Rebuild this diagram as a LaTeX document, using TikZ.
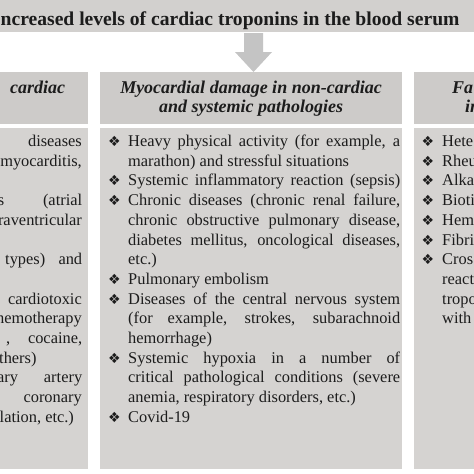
\documentclass[tikz,border=0pt]{standalone}
\usepackage{fontspec}
\setmainfont{Liberation Serif}
\newfontfamily\dejavu{DejaVu Sans}
\definecolor{boxgray}{HTML}{D5D3D1}
\definecolor{headgray}{HTML}{CDCBC9}
\definecolor{bandgray}{HTML}{D2D0CE}
\definecolor{arrowgray}{HTML}{C4C4C4}
\definecolor{ink}{HTML}{1C1C1C}
\newcommand\JL[2]{\makebox[#1][s]{#2}}
\begin{document}
\begin{tikzpicture}[x=1pt,y=-1pt,
  panel/.style={fill=boxgray, draw=none, inner sep=0pt, anchor=north west},
  colhead/.style={fill=headgray, draw=none, inner sep=0pt, anchor=north west},
  body/.style={anchor=base west, inner sep=0pt, font=\fontsize{16.4}{19.7}\selectfont, text=ink},
  bodyr/.style={anchor=base east, inner sep=0pt, font=\fontsize{16.4}{19.7}\selectfont, text=ink},
  headtext/.style={anchor=base, inner sep=0pt, font=\fontsize{18}{20}\selectfont\bfseries\itshape, text=ink},
  headtextw/.style={anchor=base west, inner sep=0pt, font=\fontsize{18}{20}\selectfont\bfseries\itshape, text=ink},
  bul/.style={inner sep=0pt, font=\dejavu\fontsize{14}{14}\selectfont, text=ink},
]
\useasboundingbox (0,0) rectangle (474,474);
\clip (0,0) rectangle (474,474);
\fill[white] (0,0) rectangle (474,474);
% top band
\node[fill=bandgray, inner sep=0pt, anchor=north west, minimum width=474pt, minimum height=32pt] (band) at (0,0) {};
\node[anchor=base west, inner sep=0pt, font=\fontsize{19.6}{22}\selectfont\bfseries, text=ink] (title) at (0.5,25) {ncreased levels of cardiac troponins in the blood serum};
% column headers
\node[colhead, minimum width=108pt, minimum height=52pt] (lhead) at (-20,72) {};
\node[colhead, minimum width=302pt, minimum height=52pt] (mhead) at (100,72) {};
\node[colhead, minimum width=80pt, minimum height=52pt] (rhead) at (414,72) {};
% bodies
\node[panel, minimum width=108pt, minimum height=341pt] (lbody) at (-20,128) {};
\node[panel, minimum width=302pt, minimum height=341pt] (mbody) at (100,128) {};
\node[panel, minimum width=80pt, minimum height=341pt] (rbody) at (414,128) {};
% arrow
\coordinate (atop) at (253.5,33);
\coordinate (atip) at (253.5,72);
\fill[arrowgray] ([xshift=-9.5pt]atop) -- ([xshift=9.5pt]atop) -- ([xshift=9.5pt,yshift=-19pt]atop)
  -- ([xshift=18.5pt,yshift=-19pt]atop) -- (atip) -- ([xshift=-18.5pt,yshift=-19pt]atop)
  -- ([xshift=-9.5pt,yshift=-19pt]atop) -- cycle;
% header texts
\node[headtextw] (lh1) at (10,93) {cardiac};
\node[headtext] (mh1) at (251,93) {Myocardial damage in non-cardiac};
\node[headtext] (mh2) at (251,112) {and systemic pathologies};
\node[headtextw] (rh1) at (452,93) {Fa};
\node[headtextw] (rh2) at (465,112) {in};
% left column fragments
\node[bodyr] (l0) at (82,146.5) {diseases};
\node[bodyr] (l1) at (82,166.2) {myocarditis,};
\node[body] (l3) at (-2.4,205.6) {\JL{84.4pt}{s (atrial}};
\node[bodyr] (l4) at (82,225.3) {raventricular};
\node[body] (l6) at (5,264.7) {\JL{77pt}{types) and}};
\node[bodyr] (l8) at (82,304.1) {cardiotoxic};
\node[bodyr] (l9) at (82,323.8) {hemotherapy};
\node[body] (l10) at (6,343.5) {\JL{76pt}{, cocaine,}};
\node[body] (l11) at (-1,363.2) {thers)};
\node[body] (l12) at (-3,382.9) {\JL{85pt}{ary artery}};
\node[bodyr] (l13) at (82,402.6) {coronary};
\node[body] (l14) at (-0.5,422.3) {lation, etc.)};
% middle column
\node[body] (m0) at (128,146.5) {\JL{272pt}{Heavy physical activity (for example, a}};
\node[body] (m1) at (128,166.2) {marathon) and stressful situations};
\node[body] (m2) at (128,185.9) {\JL{272pt}{Systemic inflammatory reaction (sepsis)}};
\node[body] (m3) at (128,205.6) {\JL{272pt}{Chronic diseases (chronic renal failure,}};
\node[body] (m4) at (128,225.3) {\JL{272pt}{chronic obstructive pulmonary disease,}};
\node[body] (m5) at (128,245.0) {\JL{272pt}{diabetes mellitus, oncological diseases,}};
\node[body] (m6) at (128,264.7) {etc.)};
\node[body] (m7) at (128,284.4) {Pulmonary embolism};
\node[body] (m8) at (128,304.1) {\JL{272pt}{Diseases of the central nervous system}};
\node[body] (m9) at (128,323.8) {\JL{272pt}{(for example, strokes, subarachnoid}};
\node[body] (m10) at (128,343.5) {hemorrhage)};
\node[body] (m11) at (128,363.2) {\JL{272pt}{Systemic hypoxia in a number of}};
\node[body] (m12) at (128,382.9) {\JL{272pt}{critical pathological conditions (severe}};
\node[body] (m13) at (128,402.6) {anemia, respiratory disorders, etc.)};
\node[body] (m14) at (128,422.3) {Covid-19};
\foreach \n/\yy in {b0/146.5, b2/185.9, b3/205.6, b7/284.4, b8/304.1, b11/363.2, b14/422.3}
  \node[bul] (\n) at (114.5,\yy-5) {❖};
% right column
\node[body] (r0) at (442,146.5) {Hete};
\node[body] (r1) at (442,166.2) {Rheu};
\node[body] (r2) at (442,185.9) {Alka};
\node[body] (r3) at (442,205.6) {Bioti};
\node[body] (r4) at (442,225.3) {Hem};
\node[body] (r5) at (442,245.0) {Fibri};
\node[body] (r6) at (442,264.7) {Cros};
\node[body] (r7) at (442,284.4) {react};
\node[body] (r8) at (442,304.1) {tropo};
\node[body] (r9) at (442,323.8) {with};
\foreach \n/\yy in {c0/146.5, c1/166.2, c2/185.9, c3/205.6, c4/225.3, c5/245.0, c6/264.7}
  \node[bul] (\n) at (428,\yy-5) {❖};
\end{tikzpicture}
\end{document}
